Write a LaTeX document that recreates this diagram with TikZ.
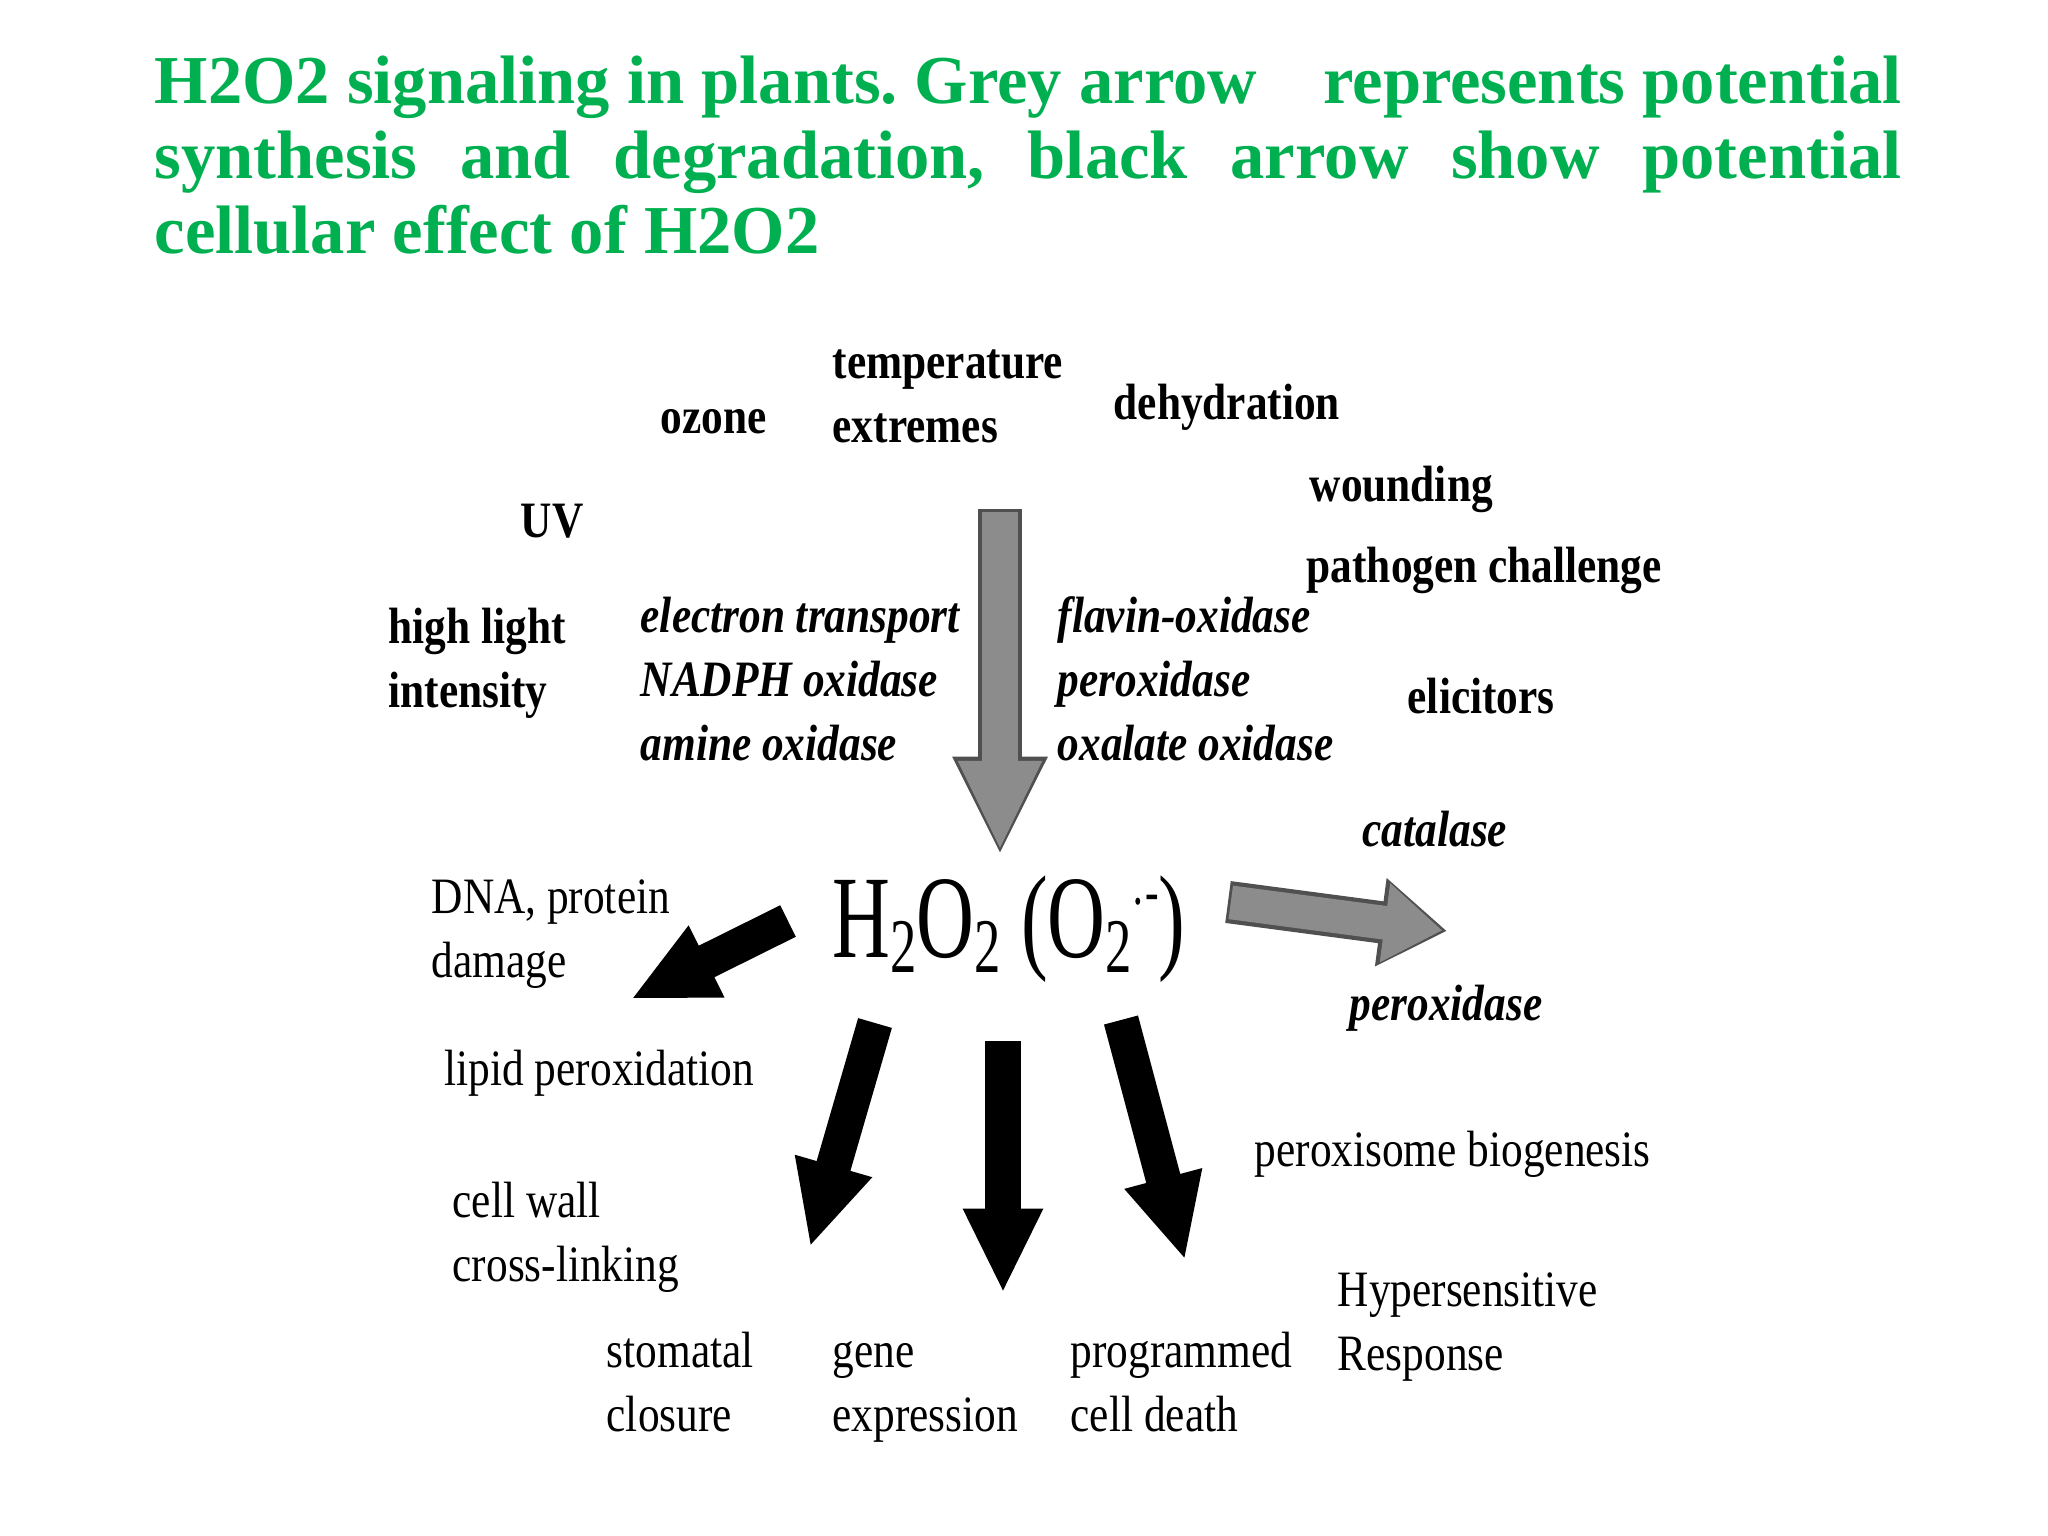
\documentclass[tikz,border=0pt]{standalone}
\usepackage{fontspec}
\setmainfont{Liberation Serif}
\newfontfamily\figfont[FakeStretch=0.85]{Liberation Serif}
\newfontfamily\chemfont[FakeStretch=0.68]{Liberation Serif}
\usepackage{xcolor}
\usepackage{tikz}
\usetikzlibrary{arrows.meta}
\frenchspacing

\definecolor{titlegreen}{RGB}{0,176,80}
\definecolor{arrowgrey}{RGB}{140,140,140}
\definecolor{edgegrey}{RGB}{80,80,80}

\newcommand{\lowtwo}{\raisebox{-4.5pt}{\fontsize{22}{22}\selectfont 2}}

\tikzset{
  stress/.style={font=\figfont\fontsize{14.5}{18.2}\selectfont\bfseries, anchor=base west, inner sep=0pt, align=left},
  enzyme/.style={font=\figfont\fontsize{14.5}{18.2}\selectfont\bfseries\itshape, anchor=base west, inner sep=0pt, align=left},
  effect/.style={font=\figfont\fontsize{14.5}{18.2}\selectfont, anchor=base west, inner sep=0pt, align=left},
  greyedge/.style={edgegrey, line width=12.5pt},
  greyfill/.style={arrowgrey, line width=10pt, shorten <=0.8pt, shorten >=1.3pt},
  blackarrow/.style={black, line width=10pt, -{Triangle[length=24pt,width=21pt]}}
}

\begin{document}
\begin{tikzpicture}[x=0.01cm, y=-0.01cm]
            \useasboundingbox (0,0) rectangle (2048,1536);

            % title (multi-line nodes sit on their last baseline)
            \node[anchor=base west, inner sep=0pt, align=left, text=titlegreen,
                  font=\bfseries\fontsize{19.5}{21.3}\selectfont] (title) at (154,253)
                  {\makebox[17.46cm][s]{H2O2 signaling in plants. Grey arrow\hfill represents potential}\\
                   \makebox[17.46cm][s]{synthesis and degradation, black arrow show potential}\\
                   cellular effect of H2O2};

            % stresses
            \node[stress] (ozone) at (660,433) {ozone};
            \node[stress] (temp) at (832,442) {temperature\\extremes};
            \node[stress] (dehyd) at (1113,419) {dehydration};
            \node[stress] (wound) at (1309,501) {wounding};
            \node[stress] (uv) at (520,537) {UV};
            \node[stress] (pathogen) at (1306,582) {pathogen challenge};
            \node[stress] (light) at (388,707) {high light\\intensity};
            \node[stress] (elicit) at (1407,713) {elicitors};

            % sources and sinks
            \node[enzyme] (sourcesl) at (640,760) {electron transport\\NADPH oxidase\\amine oxidase};
            \node[enzyme] (sourcesr) at (1057,760) {flavin-oxidase\\peroxidase\\oxalate oxidase};
            \node[enzyme] (catalase) at (1362,846) {catalase};
            \node[enzyme] (perox) at (1349,1020) {peroxidase};

            \node[anchor=base west, inner sep=0pt, font=\chemfont\fontsize{33.5}{36}\selectfont] (h2o2) at (832,957)
                  {H\lowtwo O\lowtwo\ (O\lowtwo\raisebox{13pt}{\fontsize{17}{17}\selectfont \raisebox{-3pt}{·}-})};

            % effects
            \node[effect] (dna) at (431,977) {DNA, protein\\damage};
            \node[effect] (lipid) at (444,1085) {lipid peroxidation};
            \node[effect] (wall) at (452,1281) {cell wall\\cross-linking};
            \node[effect] (stomata) at (606,1431) {stomatal\\closure};
            \node[effect] (gene) at (832,1431) {gene\\expression};
            \node[effect] (pcd) at (1070,1431) {programmed\\cell death};
            \node[effect] (peroxisome) at (1254,1166) {peroxisome biogenesis};
            \node[effect] (hr) at (1337,1370) {Hypersensitive\\Response};

            % arrow ends
            \coordinate (synth top) at (1000,509);
            \coordinate (synth tip) at (1000,855);
            \coordinate (degr tail) at (1228,902);
            \coordinate (degr tip) at (1447,931);
            \coordinate (dna tail) at (788,921);
            \coordinate (dna tip) at (631,999);
            \coordinate (stomata tail) at (875,1023);
            \coordinate (stomata tip) at (810,1247);
            \coordinate (gene tail) at (1003,1041);
            \coordinate (gene tip) at (1003,1293);
            \coordinate (pcd tail) at (1121,1020);
            \coordinate (pcd tip) at (1185,1260);

            % grey arrows
            \draw[greyedge, -{Triangle[length=28pt,width=25pt]}] (synth top) -- (synth tip);
            \draw[greyfill, -{Triangle[length=25.5pt,width=22pt]}] (synth top) -- (synth tip);
            \draw[greyedge, line width=12pt, -{Triangle[length=19pt,width=24pt]}] (degr tail) -- (degr tip);
            \draw[greyfill, line width=9.6pt, -{Triangle[length=16.5pt,width=21.5pt]}] (degr tail) -- (degr tip);

            % black arrows
            \draw[blackarrow] (dna tail) -- (dna tip);
            \draw[blackarrow] (stomata tail) -- (stomata tip);
            \draw[blackarrow] (gene tail) -- (gene tip);
            \draw[blackarrow] (pcd tail) -- (pcd tip);

        \end{tikzpicture}
\end{document}
